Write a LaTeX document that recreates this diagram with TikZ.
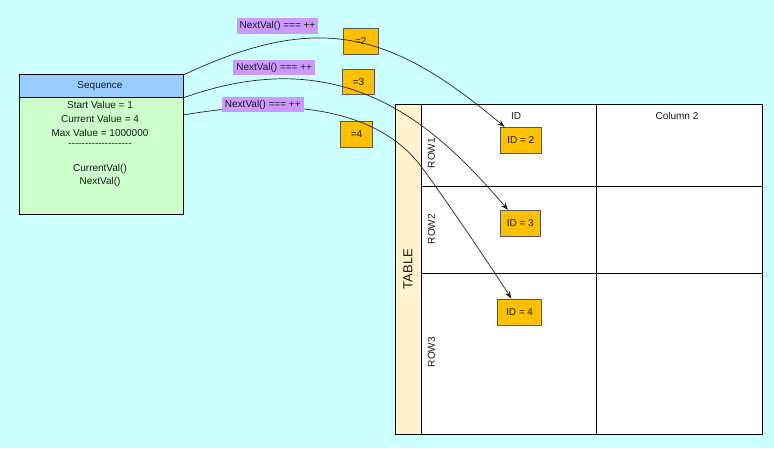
\documentclass[tikz,border=0pt]{standalone}
\usepackage{fontspec}
\setmainfont{Liberation Sans}
\usetikzlibrary{arrows.meta,calc}
\definecolor{bgc}{HTML}{CCFFFF}
\definecolor{headc}{HTML}{99CCFF}
\definecolor{bodyc}{HTML}{CCFFCC}
\definecolor{creamc}{HTML}{FFF2CC}
\definecolor{amberc}{HTML}{FFC000}
\definecolor{purplec}{HTML}{CC99FF}
\definecolor{txtc}{HTML}{1A1A1A}
\def\dsh{-\kern0pt}
\begin{document}
\begin{tikzpicture}[x=1pt,y=-1pt,
  every node/.style={font=\fontsize{10}{12}\selectfont,text=txtc},
  box/.style={draw=black,line width=0.8pt,rectangle,inner sep=0pt,anchor=north west},
  txt/.style={inner sep=0pt},
  valbox/.style={draw=black!65,line width=0.8pt,fill=amberc,rectangle,inner sep=0pt},
  tag/.style={fill=purplec,rectangle,inner sep=0pt},
  link/.style={line width=0.7pt,draw=black!85,-{Stealth[length=7.5pt,width=5.5pt]}}]
\fill[bgc] (0,0) rectangle (774,448);
\useasboundingbox (0,0) rectangle (774,448);
% sequence
\node[box,fill=headc,minimum width=164,minimum height=23] (seqh) at (18.5,74) {};
\node[txt] (seqt) at (100,86) {Sequence};
\node[box,fill=bodyc,minimum width=164,minimum height=117] (seqb) at (18.5,97) {};
\node[txt] (s1) at (100,104.5) {Start Value = 1};
\node[txt] (s2) at (100,118.5) {Current Value = 4};
\node[txt] (s3) at (100,132.5) {Max Value = 1000000};
\node[txt] (s4) at (100,145) {\dsh\dsh\dsh\dsh\dsh\dsh\dsh\dsh\dsh\dsh\dsh\dsh\dsh\dsh\dsh\dsh\dsh\dsh\dsh};
\node[txt] (s5) at (100,168.5) {CurrentVal()};
\node[txt] (s6) at (100,181.5) {NextVal()};
% table
\node[box,fill=creamc,minimum width=26,minimum height=330] (tside) at (394.5,104) {};
\node[box,fill=white,minimum width=175,minimum height=82] (c11) at (420.5,104) {};
\node[box,fill=white,minimum width=166,minimum height=82] (c12) at (595.5,104) {};
\node[box,fill=white,minimum width=175,minimum height=86.5] (c21) at (420.5,186) {};
\node[box,fill=white,minimum width=166,minimum height=86.5] (c22) at (595.5,186) {};
\node[box,fill=white,minimum width=175,minimum height=161.5] (c31) at (420.5,272.5) {};
\node[box,fill=white,minimum width=166,minimum height=161.5] (c32) at (595.5,272.5) {};
\node[txt,rotate=90,font=\fontsize{13}{15}\selectfont] (tlab) at (408,269) {TABLE};
\node[txt,rotate=90] (r1) at (431.5,153) {ROW1};
\node[txt,rotate=90] (r2) at (431.5,229) {ROW2};
\node[txt,rotate=90] (r3) at (431.5,352) {ROW3};
\node[txt] (hid) at (516,116) {ID};
\node[txt] (hc2) at (677,116) {Column 2};
% value boxes
\node[valbox,minimum width=41,minimum height=26] (id2) at (520.8,140.3) {ID = 2};
\node[valbox,minimum width=40.7,minimum height=26] (id3) at (520.3,223.3) {ID = 3};
\node[valbox,minimum width=43.6,minimum height=26] (id4) at (519.5,312) {ID = 4};
\node[valbox,minimum width=35,minimum height=25.7] (eq2) at (360.8,41.2) {=2};
\node[valbox,minimum width=32.4,minimum height=25.7] (eq3) at (358.5,81.8) {=3};
\node[valbox,minimum width=32.4,minimum height=26] (eq4) at (356.5,134.3) {=4};
% connectors
\coordinate (st1) at ($(seqh.north east)+(0,1)$);
\coordinate (st2) at (seqh.south east);
\coordinate (st3) at ($(seqb.north east)+(0,18)$);
\coordinate (mid3) at (420,165);
\coordinate (en1) at ($(id2.north west)+(4.7,0)$);
\coordinate (en2) at ($(id3.north west)+(8.5,0)$);
\coordinate (en3) at ($(id4.north west)+(14,0)$);
\draw[link] (st1) .. controls (318,11.6) and (390,30.6) .. (en1);
\draw[link] (st2) .. controls (345,40) and (435,125) .. (en2);
\draw[link] (st3) .. controls (290.4,96.3) and (377.3,109.7) .. (mid3)
  .. controls (438.3,188.7) and (495.2,272.8) .. (en3);
% tags
\node[tag,minimum width=81.6,minimum height=15.7] (t1) at (277.5,26.2) {NextVal() === ++};
\node[tag,minimum width=81.7,minimum height=15] (t2) at (274.2,67.5) {NextVal() === ++};
\node[tag,minimum width=82.3,minimum height=15.6] (t3) at (262.8,104.5) {NextVal() === ++};
\end{tikzpicture}
\end{document}
